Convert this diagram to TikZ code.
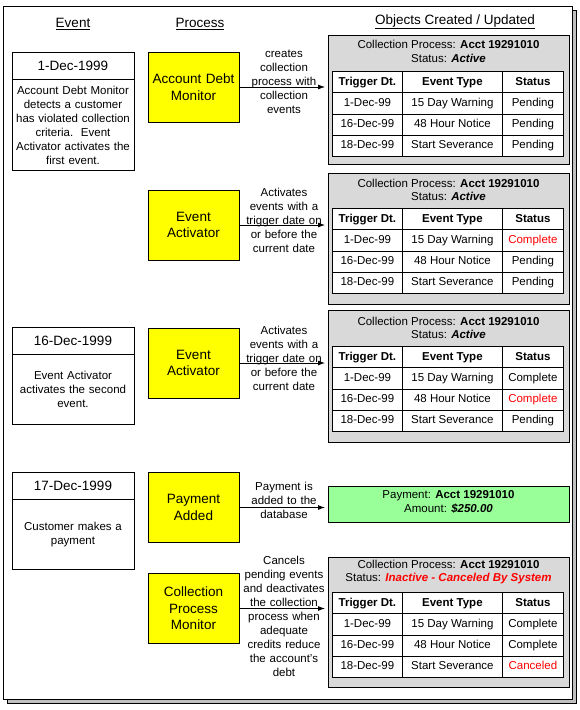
\documentclass[tikz,border=0pt]{standalone}
\usepackage{fontspec}
\setmainfont{Liberation Sans}
\usetikzlibrary{positioning,arrows.meta}

\definecolor{procyellow}{HTML}{FFFF00}
\definecolor{objgrey}{HTML}{D9D9D9}
\definecolor{paygreen}{HTML}{99FF99}
\definecolor{shadowgrey}{HTML}{C0C0C0}

\newcommand\bodyfont{\fontsize{11.5}{14}\selectfont}
\newcommand\bigfont{\fontsize{13.5}{16.5}\selectfont}
\newcommand\tabfont{\fontsize{11.5}{13.5}\selectfont}
\newcommand\redtxt[1]{\textcolor{red}{#1}}

% one table of collection events: name, top y, three status texts
\newcommand{\colltable}[5]{%
  \node[cell,minimum width=70pt,font=\tabfont\bfseries] (#1h1) at (332,#2) {Trigger Dt.};
  \node[cell,minimum width=100pt,font=\tabfont\bfseries] (#1h2) at (402,#2) {Event Type};
  \node[cell,minimum width=61pt,font=\tabfont\bfseries] (#1h3) at (502,#2) {Status};
  \node[cell,minimum width=70pt] (#1a1) at (332,#2+21.25) {1-Dec-99};
  \node[cell,minimum width=100pt] (#1a2) at (402,#2+21.25) {15 Day Warning};
  \node[cell,minimum width=61pt] (#1a3) at (502,#2+21.25) {#3};
  \node[cell,minimum width=70pt] (#1b1) at (332,#2+42.5) {16-Dec-99};
  \node[cell,minimum width=100pt] (#1b2) at (402,#2+42.5) {48 Hour Notice};
  \node[cell,minimum width=61pt] (#1b3) at (502,#2+42.5) {#4};
  \node[cell,minimum width=70pt] (#1c1) at (332,#2+63.75) {18-Dec-99};
  \node[cell,minimum width=100pt] (#1c2) at (402,#2+63.75) {Start Severance};
  \node[cell,minimum width=61pt] (#1c3) at (502,#2+63.75) {#5};
}

\begin{document}
\begin{tikzpicture}[x=1pt,y=-1pt,line width=0.8pt,
  every node/.style={font=\bodyfont},
  evdate/.style={draw,fill=white,minimum width=122pt,minimum height=27pt,inner sep=0pt,font=\bigfont},
  evtext/.style={draw,fill=white,minimum width=122pt,text width=118pt,align=center,inner sep=0pt},
  procbox/.style={draw,fill=procyellow,minimum width=91pt,minimum height=70pt,text width=88pt,align=center,inner sep=0pt,font=\bigfont},
  actlabel/.style={align=center,text width=92pt,inner sep=0pt},
  objbox/.style={draw,fill=objgrey,minimum width=241pt,inner sep=0pt,anchor=north west},
  objtitle/.style={align=center,inner sep=0pt,font=\tabfont},
  cell/.style={draw,fill=white,minimum height=21.25pt,text height=8.5pt,text depth=2.5pt,inner sep=0pt,anchor=north west,font=\tabfont},
  arrowline/.style={-{Latex[length=7pt,width=5pt]},shorten >=3pt}]
\useasboundingbox (0,0) rectangle (580,710);
\draw[fill=shadowgrey] (7,10) rectangle (576,703);
\draw[fill=white] (3,6) rectangle (572,699);

\node[font=\bigfont] (hevent) at (73,24) {\underline{Event}};
\node[font=\bigfont] (hproc) at (200,24) {\underline{Process}};
\node[font=\bigfont] (hobj) at (455,22) {\underline{Objects Created / Updated}};

% events
\node[evdate] (e1) at (73,65.5) {1-Dec-1999};
\node[evtext,minimum height=91pt,below=0pt of e1] (e1t) {Account Debt Monitor\\ detects a customer\\ has violated collection\\ criteria.\ \ Event\\ Activator activates the\\ first event.};
\node[evdate] (e2) at (73,340.5) {16-Dec-1999};
\node[evtext,minimum height=70pt,below=0pt of e2] (e2t) {Event Activator\\ activates the second\\ event.};
\node[evdate] (e3) at (73,485.5) {17-Dec-1999};
\node[evtext,minimum height=70pt,below=0pt of e3] (e3t) {Customer makes a\\ payment};

% processes
\node[procbox] (p1) at (193.5,87) {Account Debt\\ Monitor};
\node[procbox] (p2) at (193.5,225) {Event\\ Activator};
\node[procbox] (p3) at (193.5,363) {Event\\ Activator};
\node[procbox] (p4) at (193.5,507.5) {Payment\\ Added};
\node[procbox] (p5) at (193.5,608.5) {Collection\\ Process\\ Monitor};

% objects
\node[objbox,minimum height=129pt] (o1) at (328,35) {};
\node[objtitle] (o1t) at (448.5,51.5) {Collection Process: \textbf{Acct 19291010}\\ Status: \textbf{\textit{Active}}};
\colltable{t1}{71}{Pending}{Pending}{Pending}
\node[objbox,minimum height=131pt] (o2) at (328,173) {};
\node[objtitle] (o2t) at (448.5,190) {Collection Process: \textbf{Acct 19291010}\\ Status: \textbf{\textit{Active}}};
\colltable{t2}{208}{\redtxt{Complete}}{Pending}{Pending}
\node[objbox,minimum height=132pt] (o3) at (328,310) {};
\node[objtitle] (o3t) at (448.5,328) {Collection Process: \textbf{Acct 19291010}\\ Status: \textbf{\textit{Active}}};
\colltable{t3}{346}{Complete}{\redtxt{Complete}}{Pending}
\node[draw,fill=paygreen,minimum width=241pt,minimum height=36pt,inner sep=0pt,anchor=north west] (o4) at (328,486) {};
\node[objtitle] (o4t) at (448.5,502) {Payment: \textbf{Acct 19291010}\\ Amount: \textbf{\textit{\$250.00}}};
\node[objbox,minimum height=130pt] (o5) at (328,557) {};
\node[objtitle] (o5t) at (448.5,572) {Collection Process: \textbf{Acct 19291010}\\ Status: \redtxt{\textbf{\textit{Inactive - Canceled By System}}}};
\colltable{t5}{592}{Complete}{Complete}{\redtxt{Canceled}}

% connectors
\draw[arrowline] (p1.east) -- (o1.west |- p1.east);
\draw[arrowline] (p2.east) -- (o2.west |- p2.east);
\draw[arrowline] (p3.east) -- (o3.west |- p3.east);
\draw[arrowline] (p4.east) -- (o4.west |- p4.east);
\draw[arrowline] (p5.east) -- (o5.west |- p5.east);
\node[actlabel] (l1) at (284,81.5) {creates\\ collection\\ process with\\ collection\\ events};
\node[actlabel] (l2) at (284,220.5) {Activates\\ events with a\\ trigger date on\\ or before the\\ current date};
\node[actlabel] (l3) at (284,358) {Activates\\ events with a\\ trigger date on\\ or before the\\ current date};
\node[actlabel] (l4) at (284,500) {Payment is\\ added to the\\ database};
\node[actlabel] (l5) at (284,616.5) {Cancels\\ pending events\\ and deactivates\\ the collection\\ process when\\ adequate\\ credits reduce\\ the account's\\ debt};
\end{tikzpicture}
\end{document}
